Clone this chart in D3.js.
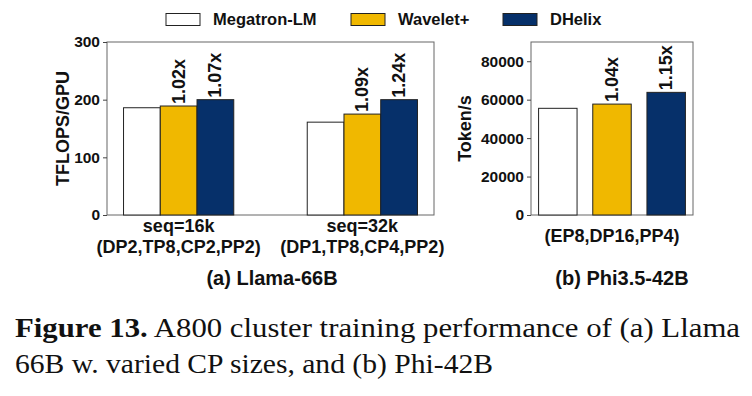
<!DOCTYPE html>
<html>
<head>
<meta charset="utf-8">
<script src="https://cdn.jsdelivr.net/npm/d3@7"></script>
<style>
  body { margin: 0; background: #fff; }
  svg text { font-family: "Liberation Sans", Arial, sans-serif; font-weight: bold; fill: #111; }
  .cap text { font-family: "Liberation Serif", "Times New Roman", serif; font-weight: normal; }
</style>
</head>
<body>
<div id="chart"></div>
<script>
// series names and colours
var systems = ["Megatron-LM", "Wavelet+", "DHelix"];
var colors = ["#ffffff", "#f0b800", "#06306a"];

// (a) Llama-66B
var llamaGroups = ["seq=16k", "seq=32k"];
var llamaConfigs = ["(DP2,TP8,CP2,PP2)", "(DP1,TP8,CP4,PP2)"];
var llamaValues = [[186, 189, 200], [161, 175, 200]];
var llamaSpeedup = [["", "1.02x", "1.07x"], ["", "1.09x", "1.24x"]];
var llamaTicks = [0, 100, 200, 300];

// (b) Phi3.5-42B
var phiConfig = "(EP8,DP16,PP4)";
var phiValues = [55500, 57700, 63800];
var phiSpeedup = ["", "1.04x", "1.15x"];
var phiTicks = [0, 20000, 40000, 60000, 80000];

var width = 752, height = 396;
var plotTop = 42, plotBottom = 215;   // plot area top/bottom for both panels

var svg = d3.select("#chart").append("svg")
    .attr("width", width)
    .attr("height", height);

// ---- legend ----
var legendX = [166, 351, 503];
var legend = svg.append("g");
systems.forEach(function(s, i) {
    legend.append("rect")
        .attr("x", legendX[i]).attr("y", 13.5)
        .attr("width", 34).attr("height", 12)
        .attr("fill", colors[i])
        .attr("stroke", "#222").attr("stroke-width", 1);
    legend.append("text")
        .attr("x", legendX[i] + 47).attr("y", 25)
        .attr("font-size", 16.5)
        .text(s);
});

function drawFrame(g, x0, x1) {
    g.append("rect")
        .attr("x", x0).attr("y", plotTop)
        .attr("width", x1 - x0).attr("height", plotBottom - plotTop)
        .attr("fill", "none")
        .attr("stroke", "#666").attr("stroke-width", 1);
}

function drawYAxis(g, x0, y, ticks) {
    var ax = g.append("g")
        .attr("transform", "translate(" + x0 + ",0)")
        .call(d3.axisLeft(y).tickValues(ticks).tickSize(4).tickPadding(3).tickFormat(d3.format("d")));
    ax.select(".domain").remove();
    ax.selectAll("line").attr("stroke", "#444");
    ax.selectAll("text").attr("font-size", 15.5).attr("fill", "#111")
        .style("font-family", "'Liberation Sans', Arial, sans-serif").style("font-weight", "bold");
}

function speedLabel(g, x, y, txt) {
    if (!txt) return;
    g.append("text")
        .attr("transform", "translate(" + (x + 6) + "," + (y - 2) + ") rotate(-90)")
        .attr("font-size", 18)
        .text(txt);
}

// ---- panel (a) ----
var aX0 = 107, aX1 = 434;
var ga = svg.append("g");
var yA = d3.scaleLinear().domain([0, 300]).range([plotBottom, plotTop]);
var xA = d3.scaleBand().domain(llamaGroups).range([aX0, aX1]).paddingInner(0.4).paddingOuter(0.09);
var xAin = d3.scaleBand().domain(systems).range([0, xA.bandwidth()]);

drawFrame(ga, aX0, aX1);
drawYAxis(ga, aX0, yA, llamaTicks);

llamaGroups.forEach(function(grp, gi) {
    systems.forEach(function(s, si) {
        var bx = xA(grp) + xAin(s);
        var by = yA(llamaValues[gi][si]);
        ga.append("rect")
            .attr("x", bx).attr("y", by)
            .attr("width", xAin.bandwidth()).attr("height", plotBottom - by)
            .attr("fill", colors[si])
            .attr("stroke", "#222").attr("stroke-width", 1);
        speedLabel(ga, bx + xAin.bandwidth() / 2, by, llamaSpeedup[gi][si]);
    });
    var cx = xA(grp) + xA.bandwidth() / 2;
    ga.append("text").attr("x", cx).attr("y", 232).attr("text-anchor", "middle")
        .attr("font-size", 18).text(grp);
    ga.append("text").attr("x", cx).attr("y", 253).attr("text-anchor", "middle")
        .attr("font-size", 18).text(llamaConfigs[gi]);
});

ga.append("text")
    .attr("transform", "translate(69," + ((plotTop + plotBottom) / 2) + ") rotate(-90)")
    .attr("text-anchor", "middle").attr("font-size", 18)
    .text("TFLOPS/GPU");
ga.append("text").attr("x", 272).attr("y", 285).attr("text-anchor", "middle")
    .attr("font-size", 20).text("(a) Llama-66B");

// ---- panel (b) ----
var bX0 = 531, bX1 = 693;
var gb = svg.append("g");
var yB = d3.scaleLinear().domain([0, 90000]).range([plotBottom, plotTop]);
var xB = d3.scaleBand().domain(systems).range([bX0, bX1]).paddingInner(0.29).paddingOuter(0.14);

drawFrame(gb, bX0, bX1);
drawYAxis(gb, bX0, yB, phiTicks);

systems.forEach(function(s, si) {
    var by = yB(phiValues[si]);
    gb.append("rect")
        .attr("x", xB(s)).attr("y", by)
        .attr("width", xB.bandwidth()).attr("height", plotBottom - by)
        .attr("fill", colors[si])
        .attr("stroke", "#222").attr("stroke-width", 1);
    speedLabel(gb, xB(s) + xB.bandwidth() / 2, by, phiSpeedup[si]);
});

gb.append("text").attr("x", (bX0 + bX1) / 2).attr("y", 242).attr("text-anchor", "middle")
    .attr("font-size", 18).text(phiConfig);
gb.append("text")
    .attr("transform", "translate(471," + ((plotTop + plotBottom) / 2) + ") rotate(-90)")
    .attr("text-anchor", "middle").attr("font-size", 18)
    .text("Token/s");
gb.append("text").attr("x", 622).attr("y", 285).attr("text-anchor", "middle")
    .attr("font-size", 20).text("(b) Phi3.5-42B");

// ---- caption ----
var cap = svg.append("g").attr("class", "cap");
var line1 = cap.append("text").attr("x", 15).attr("y", 337).attr("font-size", 27)
    .attr("textLength", 725).attr("lengthAdjust", "spacingAndGlyphs");
line1.append("tspan").style("font-weight", "bold").text("Figure 13.");
line1.append("tspan").text(" A800 cluster training performance of (a) Llama");
cap.append("text").attr("x", 15).attr("y", 372.5).attr("font-size", 27)
    .attr("textLength", 478).attr("lengthAdjust", "spacingAndGlyphs")
    .text("66B w. varied CP sizes, and (b) Phi-42B");
</script>
</body>
</html>
